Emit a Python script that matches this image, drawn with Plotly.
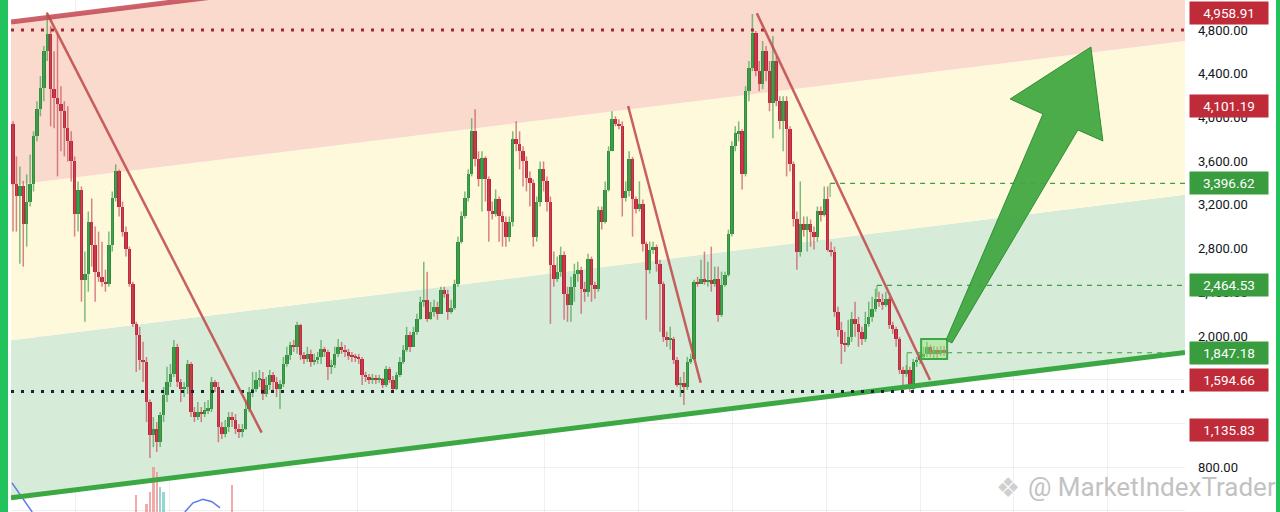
import plotly.graph_objects as go

# ---------------- DATA (weekly candles) ----------------
opens = [
    3938, 3387, 3277, 3369, 3029, 3231, 3387, 3827, 4075, 4268,
    4607, 4763, 4259, 4176, 4121, 4057, 3901, 3782, 3598, 3121,
    3341, 2516, 2571, 3048, 2837, 2589, 2543, 2497, 2479, 2837,
    3259, 3506, 3185, 2956, 2800, 2479, 2112, 2011, 1782, 1763,
    1396, 1094, 1149, 1029, 1277, 1461, 1580, 1653, 1901, 1580,
    1516, 1534, 1745, 1305, 1259, 1305, 1286, 1323, 1332, 1580,
    1534, 1167, 1103, 1167, 1259, 1231, 1149, 1121, 1149, 1332,
    1488, 1516, 1598, 1607, 1470, 1552, 1644, 1580, 1516, 1562,
    1745, 1828, 1919, 1901, 2103, 1828, 1791, 1837, 1763, 1782,
    1809, 1883, 1855, 1718, 1736, 1837, 1901, 1874, 1855, 1818,
    1809, 1800, 1791, 1644, 1626, 1598, 1607, 1598, 1607, 1552,
    1699, 1598, 1516, 1644, 1763, 1874, 2011, 1901, 2039, 2158,
    2314, 2332, 2158, 2222, 2268, 2204, 2424, 2387, 2222, 2259,
    2479, 2864, 3094, 3259, 3479, 3873, 3617, 3433, 3626, 3433,
    3140, 3121, 3250, 3094, 3048, 2910, 3048, 3800, 3754, 3690,
    3598, 3442, 3396, 2910, 3231, 3525, 3415, 3231, 2653, 2525,
    2589, 2745, 2387, 2286, 2451, 2571, 2607, 2433, 2406, 2708,
    2470, 2433, 3158, 3048, 3341, 3690, 3983, 3938, 3919, 3259,
    3323, 3617, 3250, 3167, 3204, 2846, 2607, 2791, 2818, 2662,
    2479, 1993, 1965, 1974, 1782, 1552, 1571, 1534, 1763, 1791,
    2497, 2479, 2525, 2497, 2516, 2479, 2525, 2195, 2470, 2562,
    2938, 3736, 3855, 3873, 3479, 4240, 4451, 4772, 4424, 4305,
    4607, 4424, 4130, 4516, 4149, 3965, 4149, 3892, 3571, 3075,
    2773, 3029, 2974, 3029, 2956, 2910, 3140, 3112, 3250, 2791,
    2773, 2222, 2057, 1929, 1919, 1993, 2158, 2112, 2039, 1974,
    2112, 2176, 2250, 2341, 2314, 2286, 2341, 2103, 2066, 1974,
    1690, 1653, 1690, 1516, 1763, 1782, 1809, 1837, 1901, 1837,
    1874, 1837, 1874,
]
highs = [
    3965, 3644, 3552, 3420, 3479, 3662, 3873, 4149, 4378, 4653,
    4947, 4837, 4607, 4763, 4286, 4149, 4103, 3873, 3644, 3415,
    3369, 2773, 3140, 3259, 3002, 2956, 2864, 2607, 2956, 3323,
    3571, 3525, 3231, 3002, 2818, 2497, 2130, 2084, 1947, 1809,
    1420, 1259, 1213, 1305, 1534, 1718, 1745, 1965, 1929, 1607,
    1580, 1782, 1763, 1351, 1396, 1351, 1396, 1415, 1626, 1598,
    1580, 1213, 1231, 1305, 1305, 1286, 1195, 1195, 1396, 1534,
    1672, 1672, 1690, 1672, 1626, 1690, 1672, 1626, 1598, 1809,
    1901, 1947, 1965, 2130, 2112, 1855, 1901, 1874, 1837, 1855,
    1965, 1901, 1874, 1782, 1901, 1974, 1947, 1919, 1883, 1855,
    1837, 1837, 1809, 1672, 1653, 1653, 1644, 1644, 1617, 1727,
    1718, 1635, 1672, 1809, 1919, 2084, 2039, 2084, 2204, 2360,
    2681, 2589, 2314, 2332, 2314, 2451, 2451, 2424, 2332, 2516,
    2910, 3140, 3323, 3525, 3993, 4075, 3690, 3690, 3644, 3461,
    3231, 3341, 3277, 3140, 3094, 3094, 3873, 3965, 3873, 3736,
    3644, 3506, 3433, 3277, 3598, 3598, 3461, 3277, 2773, 2727,
    2818, 2773, 2451, 2543, 2662, 2681, 2635, 2497, 2754, 2727,
    2497, 3185, 3185, 3415, 3736, 4057, 4011, 3983, 3965, 3415,
    3690, 3640, 3277, 3415, 3250, 2864, 2864, 2864, 2837, 2699,
    2497, 2039, 2084, 1993, 1809, 1626, 1672, 1809, 1837, 2516,
    2543, 2699, 2773, 2681, 2818, 2635, 2635, 2589, 2589, 2974,
    3782, 3919, 3965, 3892, 4286, 4516, 4947, 4791, 4516, 4699,
    4653, 4516, 4745, 4561, 4194, 4194, 4194, 3919, 3598, 3140,
    3415, 3094, 3094, 3066, 3002, 3185, 3185, 3369, 3369, 2864,
    2818, 2268, 2130, 2039, 2149, 2222, 2314, 2176, 2084, 2222,
    2314, 2360, 2433, 2406, 2387, 2406, 2360, 2130, 2084, 1993,
    1718, 1736, 1718, 1791, 1809, 1837, 1901, 1947, 1919, 1910,
    1901, 1910, 1910,
]
lows = [
    2956, 2956, 2662, 2635, 2818, 3185, 3323, 3782, 4011, 4149,
    4516, 3919, 3901, 3461, 3690, 3644, 3598, 3415, 2910, 2956,
    2314, 2130, 2406, 2635, 2314, 2497, 2451, 2406, 2451, 2773,
    3231, 3094, 2910, 2727, 2451, 2084, 1672, 1690, 1580, 1213,
    883, 984, 938, 984, 1213, 1396, 1534, 1626, 1534, 1396,
    1442, 1470, 1259, 1213, 1231, 1213, 1259, 1286, 1305, 1488,
    1029, 1057, 1075, 1121, 1167, 1103, 1066, 1075, 1140, 1305,
    1442, 1488, 1534, 1415, 1442, 1507, 1488, 1442, 1332, 1534,
    1718, 1782, 1855, 1837, 1782, 1745, 1763, 1718, 1736, 1745,
    1745, 1809, 1598, 1653, 1708, 1809, 1837, 1809, 1782, 1763,
    1763, 1745, 1552, 1580, 1562, 1562, 1562, 1571, 1525, 1534,
    1571, 1497, 1507, 1626, 1745, 1855, 1855, 1901, 2011, 2149,
    2268, 2130, 2149, 2176, 2149, 2204, 2351, 2149, 2204, 2240,
    2451, 2846, 3075, 3231, 3461, 3552, 3369, 3140, 3231, 2864,
    3066, 3094, 2864, 2818, 2818, 2864, 3002, 3690, 3525, 3369,
    3323, 3185, 2818, 2864, 3185, 3323, 3140, 2112, 2451, 2497,
    2543, 2149, 2130, 2130, 2314, 2497, 2204, 2314, 2360, 2314,
    2341, 2406, 2974, 3029, 3323, 3690, 3919, 3892, 3094, 3231,
    3277, 2910, 3121, 3140, 2773, 2149, 2571, 2754, 2589, 2039,
    1947, 1901, 1874, 1745, 1534, 1442, 1369, 1507, 1745, 1782,
    2451, 2479, 2470, 2451, 2406, 2451, 2130, 2176, 2451, 2543,
    2910, 3690, 3782, 3341, 3461, 4149, 4424, 4378, 4240, 4259,
    4332, 4057, 3809, 4103, 3892, 3690, 3461, 3506, 3002, 2607,
    2727, 2910, 2773, 2818, 2791, 2864, 3048, 3094, 2773, 2727,
    2176, 1993, 1745, 1855, 1901, 1947, 1993, 1901, 1919, 1947,
    2084, 2130, 2222, 2268, 2240, 2268, 2066, 2020, 1901, 1653,
    1552, 1626, 1488, 1497, 1718, 1745, 1782, 1809, 1809, 1800,
    1800, 1818, 1818,
]
closes = [
    3387, 3277, 3369, 3029, 3231, 3387, 3827, 4075, 4268, 4607,
    4763, 4259, 4176, 4121, 4057, 3901, 3782, 3598, 3121, 3341,
    2516, 2571, 3048, 2837, 2589, 2543, 2497, 2479, 2837, 3259,
    3506, 3185, 2956, 2800, 2479, 2112, 2011, 1782, 1763, 1396,
    1094, 1149, 1029, 1277, 1461, 1580, 1653, 1901, 1580, 1516,
    1534, 1745, 1305, 1259, 1305, 1286, 1323, 1332, 1580, 1534,
    1167, 1103, 1167, 1259, 1231, 1149, 1121, 1149, 1332, 1488,
    1516, 1598, 1607, 1470, 1552, 1644, 1580, 1516, 1562, 1745,
    1828, 1919, 1901, 2103, 1828, 1791, 1837, 1763, 1782, 1809,
    1883, 1855, 1718, 1736, 1837, 1901, 1874, 1855, 1818, 1809,
    1800, 1791, 1644, 1626, 1598, 1607, 1598, 1607, 1552, 1699,
    1598, 1516, 1644, 1763, 1874, 2011, 1901, 2039, 2158, 2314,
    2332, 2158, 2222, 2268, 2204, 2424, 2387, 2222, 2259, 2479,
    2864, 3094, 3259, 3479, 3873, 3617, 3433, 3626, 3433, 3140,
    3121, 3250, 3094, 3048, 2910, 3048, 3800, 3754, 3690, 3598,
    3442, 3396, 2910, 3231, 3525, 3415, 3231, 2653, 2525, 2589,
    2745, 2387, 2286, 2451, 2571, 2607, 2433, 2406, 2708, 2470,
    2433, 3158, 3048, 3341, 3690, 3983, 3938, 3919, 3259, 3323,
    3617, 3250, 3167, 3204, 2846, 2607, 2791, 2818, 2662, 2479,
    1993, 1965, 1974, 1782, 1552, 1571, 1534, 1763, 1791, 2497,
    2479, 2525, 2497, 2516, 2479, 2525, 2195, 2470, 2562, 2938,
    3736, 3855, 3873, 3479, 4240, 4451, 4772, 4424, 4305, 4607,
    4424, 4130, 4516, 4149, 3965, 4149, 3892, 3571, 3075, 2773,
    3029, 2974, 3029, 2956, 2910, 3140, 3112, 3250, 2791, 2773,
    2222, 2057, 1929, 1919, 1993, 2158, 2112, 2039, 1974, 2112,
    2176, 2250, 2341, 2314, 2286, 2341, 2103, 2066, 1974, 1690,
    1653, 1690, 1516, 1763, 1782, 1809, 1837, 1901, 1837, 1874,
    1837, 1874, 1847,
]

# a few visible volume bars at the bottom and a fragment of an indicator line
vol_idx = [36, 39, 40, 41, 42, 43, 44, 64]
vol_val = [33, 16, 39, 88, 78, 49, 39, 53]
vol_up = [False, False, False, False, False, True, True, False]
ind_x = [-0.3, 2.0, 4.1, 5.6, None, 50.2, 52.6, 55.5, 58.1, 60.5]
ind_y = [57, 35, 14, 0, None, 0, 18, 25, 20, 8]

# ascending channel (x in candle index, y in price)
chan_x = [-0.584, 342.39]
chan_lower = [520, 1850]
chan_b1 = [1962, 3292]
chan_b2 = [3380, 4700]
chan_top = [4874, 6204]

red_dotted_level = 4800
black_dotted_level = 1493

# descending red trendlines: (x0, y0, x1, y1)
trend_lines = [
    (9.85, 4959, 72.65, 1116),
    (179.7, 4105, 200.9, 1573),
    (217.3, 4953, 267.9, 1598),
]

# green dashed resistance markers: (start index, level, bottom of small vertical)
dashed_levels = [(238.7, 3396.62, 3272), (252.4, 2464.53, 2357), (261.2, 1847.18, 1690)]

# consolidation box
box = dict(x0=265.3, x1=272.9, y0=1790, y1=1973)

# projection arrow outline
arrow_x = [272.6, 300.9, 291.3, 314.9, 318.4, 311.1, 274.3]
arrow_y = [1964, 4032, 4169, 4645, 3785, 3886, 1937]

# price labels on the axis
label_vals = [4958.91, 4101.19, 3396.62, 2464.53, 1847.18, 1594.66, 1135.83]
label_kind = ["r", "r", "g", "g", "g", "r", "r"]

tick_vals = [400, 800, 1200, 1600, 2000, 2400, 2800, 3200, 3600, 4000, 4400, 4800]

# ---------------- FIGURE ----------------
n = min(len(opens), len(highs), len(lows), len(closes))
idx = list(range(n))
W, H_ = 1280, 512
ML, MR = 11, 95
PW = W - ML - MR

UP_BODY = "#2c8d3a"
DN_BODY = "#c0243a"
UP_WICK = "rgba(80,165,88,0.75)"
DN_WICK = "rgba(200,80,92,0.7)"

fig = go.Figure()

# wicks
for up, col in ((True, UP_WICK), (False, DN_WICK)):
    wx, wy = [], []
    for i in idx:
        if (closes[i] >= opens[i]) == up:
            wx += [i, i, None]
            wy += [lows[i], highs[i], None]
    fig.add_trace(go.Scatter(x=wx, y=wy, mode="lines", line=dict(color=col, width=1.5),
                             hoverinfo="skip"))

# bodies
base = [min(opens[i], closes[i]) for i in idx]
height = [max(abs(closes[i] - opens[i]), 18) for i in idx]
colors = [UP_BODY if closes[i] >= opens[i] else DN_BODY for i in idx]
fig.add_trace(go.Bar(x=idx, y=height, base=base, width=1.0,
                     marker=dict(color=colors, line=dict(width=0)), hoverinfo="skip"))

# volume bars + indicator on hidden overlay axis
fig.add_trace(go.Bar(x=vol_idx, y=vol_val, width=0.7, yaxis="y2",
                     marker=dict(color=["rgba(128,203,196,0.8)" if u else "rgba(239,154,154,0.85)" for u in vol_up],
                                 line=dict(width=0)), hoverinfo="skip"))
fig.add_trace(go.Scatter(x=ind_x, y=ind_y, yaxis="y2", mode="lines",
                         line=dict(color="#5b7be8", width=1.5), hoverinfo="skip"))

shapes = []


def poly(xs, ys):
    return "M " + " L ".join(f"{x},{y}" for x, y in zip(xs, ys)) + " Z"


# channel zones
zones = [
    (chan_lower, chan_b1, "#d7ebd9"),
    (chan_b1, chan_b2, "#fff9db"),
    (chan_b2, chan_top, "#f9dacd"),
]
for lo, hi, col in zones:
    shapes.append(dict(type="path", xref="x", yref="y", layer="between",
                       path=poly([chan_x[0], chan_x[1], chan_x[1], chan_x[0]], [lo[0], lo[1], hi[1], hi[0]]),
                       fillcolor=col, line=dict(width=0)))

# channel border lines
shapes.append(dict(type="line", xref="x", yref="y", x0=chan_x[0], x1=chan_x[1], y0=chan_top[0], y1=chan_top[1],
                   line=dict(color="rgba(196,70,82,0.85)", width=5), layer="above"))
shapes.append(dict(type="line", xref="x", yref="y", x0=chan_x[0], x1=chan_x[1], y0=chan_lower[0], y1=chan_lower[1],
                   line=dict(color="#3ca844", width=5), layer="above"))

# dotted horizontal levels
shapes.append(dict(type="line", xref="x", yref="y", x0=chan_x[0], x1=chan_x[1], y0=red_dotted_level, y1=red_dotted_level,
                   line=dict(color="#a3283a", width=3, dash="3px,7px"), layer="above"))
shapes.append(dict(type="line", xref="x", yref="y", x0=chan_x[0], x1=chan_x[1], y0=black_dotted_level, y1=black_dotted_level,
                   line=dict(color="#1c2433", width=3, dash="3px,7px"), layer="above"))

# red trendlines
for x0, y0, x1, y1 in trend_lines:
    shapes.append(dict(type="line", xref="x", yref="y", x0=x0, y0=y0, x1=x1, y1=y1,
                       line=dict(color="rgba(190,70,72,0.85)", width=2.5), layer="above"))

# green dashed levels
for xs, lvl, lo in dashed_levels:
    shapes.append(dict(type="line", xref="x", yref="y", x0=xs, x1=chan_x[1], y0=lvl, y1=lvl,
                       line=dict(color="#3f9e45", width=1.2, dash="5px,5px"), layer="above"))
    shapes.append(dict(type="line", xref="x", yref="y", x0=xs, x1=xs, y0=lo, y1=lvl,
                       line=dict(color="rgba(80,170,80,0.8)", width=1.2), layer="above"))

# consolidation box
shapes.append(dict(type="rect", xref="x", yref="y", layer="above", **box,
                   fillcolor="rgba(150,230,120,0.45)", line=dict(color="#3fa846", width=2)))

# arrow
shapes.append(dict(type="path", xref="x", yref="y", layer="above", path=poly(arrow_x, arrow_y),
                   fillcolor="rgba(66,168,66,0.95)", line=dict(color="#2f8f35", width=1)))


def fx(px):
    return (px - ML) / PW


# green frame of the picture
shapes.append(dict(type="rect", xref="paper", yref="paper", x0=fx(0), x1=fx(8), y0=0, y1=1,
                   fillcolor="#22c35d", line=dict(width=0), layer="above"))
shapes.append(dict(type="rect", xref="paper", yref="paper", x0=fx(1276), x1=fx(1281), y0=0, y1=1,
                   fillcolor="#22c35d", line=dict(width=0), layer="above"))

annotations = []
for v, k in zip(label_vals, label_kind):
    annotations.append(dict(x=1, xref="paper", y=v, yref="y", xanchor="left", yanchor="middle", xshift=4,
                            text=f"{v:,.2f}", showarrow=False, width=74, height=18, align="center",
                            bgcolor="#bf2b38" if k == "r" else "#399c3f", borderpad=2,
                            font=dict(family="Roboto", size=13.5, color="white")))

# watermark
annotations.append(dict(x=fx(1008), y=1 - 487 / H_, xref="paper", yref="paper", xanchor="center", yanchor="middle",
                        text="❖", showarrow=False, font=dict(family="DejaVu Sans", size=27, color="#cfcfcf")))
annotations.append(dict(x=fx(1026), y=1 - 487 / H_, xref="paper", yref="paper", xanchor="left", yanchor="middle",
                        text="@ MarketIndexTrader", showarrow=False,
                        font=dict(family="Roboto", size=26, color="#c2c2c2")))

fig.update_layout(
    width=W, height=H_, margin=dict(l=ML, r=MR, t=0, b=0),
    paper_bgcolor="white", plot_bgcolor="white", showlegend=False,
    barmode="overlay", bargap=0,
    shapes=shapes, annotations=annotations,
    xaxis=dict(range=chan_x, showticklabels=False, showgrid=True, gridcolor="rgba(0,0,0,0.06)",
               tick0=18.4, dtick=27.4, zeroline=False, showline=False, ticks=""),
    yaxis=dict(side="right", range=[390, 5075], tickvals=tick_vals,
               ticktext=[f"{v:,.2f}" for v in tick_vals],
               tickfont=dict(family="Roboto", size=13, color="#131722"),
               showgrid=True, gridcolor="rgba(0,0,0,0.06)", zeroline=False, showline=False,
               ticks="", ticklabelstandoff=12),
    yaxis2=dict(overlaying="y", range=[0, 1000], visible=False),
)

fig.write_html("out.html", config={"displayModeBar": False},
               post_script="document.body.style.margin='0';document.body.style.padding='0';"
                           "document.body.style.overflow='hidden';")
